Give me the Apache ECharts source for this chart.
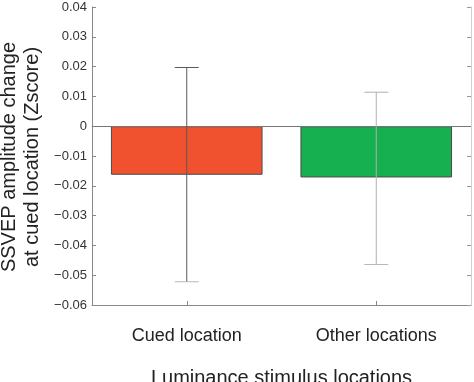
<!DOCTYPE html>
<html>
<head>
<meta charset="utf-8">
<script src="https://cdn.jsdelivr.net/npm/echarts@6/dist/echarts.min.js"></script>
<style>html,body{margin:0;padding:0;background:#fff;}#c{width:474px;height:382px;}</style>
</head>
<body>
<div id="c"></div>
<script>
const categories = ['Cued location', 'Other locations'];
const means = [-0.0163, -0.0172];
const errLow = [-0.0522, -0.0464];
const errHigh = [0.0197, 0.0114];
const barColors = ['#F0522F', '#16B050'];
const errColors = ['#5a5a5a', '#b0b0b0'];
const yTicks = { min: -0.06, max: 0.04, step: 0.01 };

const chart = echarts.init(document.getElementById('c'));
const font = 'Liberation Sans, Arial, Helvetica, sans-serif';

function fmt(v) {
  if (Math.abs(v) < 1e-9) return '0';
  const s = v.toFixed(2);
  return s.replace('-', '\u2212');
}

chart.setOption({
  animation: false,
  backgroundColor: '#fff',
  grid: { left: 92, right: 3, top: 7, bottom: 77, containLabel: false, outerBoundsMode: 'none' },
  xAxis: [{
    type: 'category',
    data: categories,
    position: 'bottom',
    axisLine: { onZero: false, lineStyle: { color: '#888', width: 1 } },
    axisTick: { show: true, inside: true, alignWithLabel: true, length: 4, lineStyle: { color: '#888' } },
    axisLabel: { color: '#222', fontSize: 18, fontFamily: font, margin: 22 },
    name: 'Luminance stimulus locations',
    nameLocation: 'middle',
    nameGap: 63,
    nameTextStyle: { color: '#222', fontSize: 20, fontFamily: font }
  }, {
    type: 'category',
    data: categories,
    position: 'top',
    axisLine: { show: true, lineStyle: { color: '#d0d0d0', width: 1 } },
    axisTick: { show: true, inside: true, alignWithLabel: true, length: 4, lineStyle: { color: '#999' } },
    axisLabel: { show: false }
  }],
  yAxis: [{
    type: 'value',
    min: yTicks.min,
    max: yTicks.max,
    interval: yTicks.step,
    position: 'left',
    axisLine: { show: true, onZero: false, lineStyle: { color: '#888', width: 1 } },
    axisTick: { show: true, inside: true, length: 4, lineStyle: { color: '#888' } },
    axisLabel: { color: '#333', fontSize: 13, fontFamily: font, margin: 5, formatter: fmt },
    splitLine: { show: false }
  }, {
    type: 'value',
    min: yTicks.min,
    max: yTicks.max,
    interval: yTicks.step,
    position: 'right',
    axisLine: { show: true, onZero: false, lineStyle: { color: '#d0d0d0', width: 1 } },
    axisTick: { show: true, inside: true, length: 4, lineStyle: { color: '#999' } },
    axisLabel: { show: false },
    splitLine: { show: false }
  }],
  graphic: [{
    type: 'text',
    x: 21,
    y: 157,
    rotation: Math.PI / 2,
    style: {
      text: 'SSVEP amplitude change\nat cued location (Zscore)',
      font: '20px ' + font,
      fill: '#222',
      textAlign: 'center',
      textVerticalAlign: 'middle',
      lineHeight: 23
    }
  }],
  series: [{
    type: 'bar',
    xAxisIndex: 0,
    yAxisIndex: 0,
    barCategoryGap: '20%',
    data: means.map((v, i) => ({ value: v, itemStyle: { color: barColors[i], borderColor: '#4a4a4a', borderWidth: 1 } })),
    markLine: {
      silent: true,
      symbol: 'none',
      label: { show: false },
      lineStyle: { color: '#777', type: 'solid', width: 1 },
      data: [{ yAxis: 0 }]
    },
    z: 2
  }, {
    type: 'custom',
    xAxisIndex: 0,
    yAxisIndex: 0,
    data: categories.map((c, i) => [i, errLow[i], errHigh[i]]),
    renderItem: function (params, api) {
      const i = api.value(0);
      const lo = api.coord([i, api.value(1)]);
      const hi = api.coord([i, api.value(2)]);
      const half = 12;
      const col = errColors[params.dataIndex];
      const st = { stroke: col, lineWidth: 1 };
      return {
        type: 'group',
        children: [
          { type: 'line', shape: { x1: hi[0], y1: hi[1], x2: lo[0], y2: lo[1] }, style: st },
          { type: 'line', shape: { x1: hi[0] - half, y1: hi[1], x2: hi[0] + half, y2: hi[1] }, style: st },
          { type: 'line', shape: { x1: lo[0] - half, y1: lo[1], x2: lo[0] + half, y2: lo[1] }, style: { stroke: '#b8b8b8', lineWidth: 1 } }
        ]
      };
    },
    z: 5
  }]
});
</script>
</body>
</html>
